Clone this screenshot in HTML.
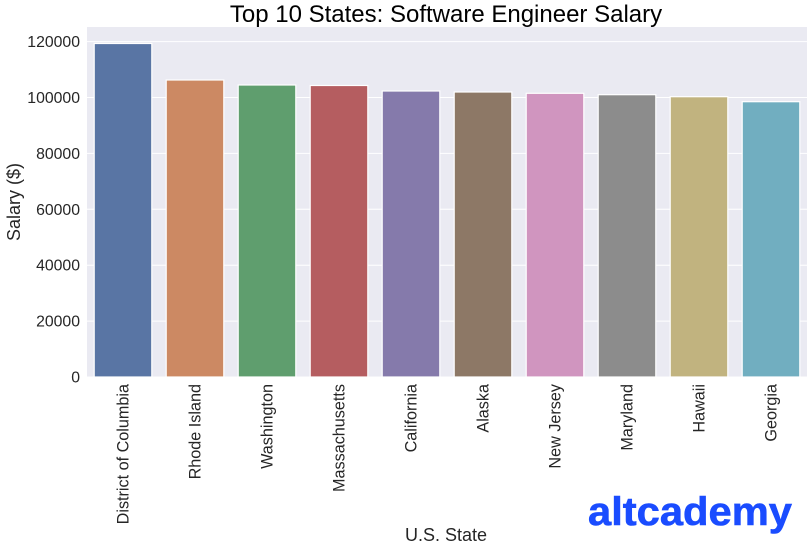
<!DOCTYPE html>
<html><head><meta charset="utf-8"><style>body{margin:0;background:#fff}svg{display:block}</style></head><body>
<svg width="811" height="549" xmlns="http://www.w3.org/2000/svg" font-family="Liberation Sans, Arial, sans-serif">
<rect x="87" y="27" width="720" height="350" fill="#eaeaf2"/>
<g stroke="#fff" stroke-width="1">
<line x1="87" x2="807" y1="377" y2="377"/><line x1="87" x2="807" y1="321.1" y2="321.1"/>
<line x1="87" x2="807" y1="265.2" y2="265.2"/><line x1="87" x2="807" y1="209.3" y2="209.3"/>
<line x1="87" x2="807" y1="153.4" y2="153.4"/><line x1="87" x2="807" y1="97.5" y2="97.5"/>
<line x1="87" x2="807" y1="41.6" y2="41.6"/>
</g>
<g stroke="#fff" stroke-width="1.2">
<rect x="94.2" y="43.5" width="57.6" height="333.5" fill="#5975a4"/>
<rect x="166.2" y="80" width="57.6" height="297" fill="#cc8963"/>
<rect x="238.2" y="85" width="57.6" height="292" fill="#5f9e6e"/>
<rect x="310.2" y="85.5" width="57.6" height="291.5" fill="#b55d60"/>
<rect x="382.2" y="91" width="57.6" height="286" fill="#857aab"/>
<rect x="454.2" y="92" width="57.6" height="285" fill="#8d7866"/>
<rect x="526.2" y="93.3" width="57.6" height="283.7" fill="#d095bf"/>
<rect x="598.2" y="94.7" width="57.6" height="282.3" fill="#8c8c8c"/>
<rect x="670.2" y="96.7" width="57.6" height="280.3" fill="#c1b37f"/>
<rect x="742.2" y="101.7" width="57.6" height="275.3" fill="#71aec0"/>
</g>
<g font-size="15.8" fill="#262626" text-anchor="end">
<text x="80" y="382.5">0</text><text x="80" y="326.6">20000</text><text x="80" y="270.7">40000</text>
<text x="80" y="214.8">60000</text><text x="80" y="158.9">80000</text><text x="80" y="103">100000</text>
<text x="80" y="47.1">120000</text>
</g>
<g font-size="16.2" fill="#262626" text-anchor="end">
<text transform="translate(128.5,384) rotate(-90)">District of Columbia</text>
<text transform="translate(200.5,384) rotate(-90)">Rhode Island</text>
<text transform="translate(272.5,384) rotate(-90)">Washington</text>
<text transform="translate(344.5,384) rotate(-90)">Massachusetts</text>
<text transform="translate(416.5,384) rotate(-90)">California</text>
<text transform="translate(488.5,384) rotate(-90)">Alaska</text>
<text transform="translate(560.5,384) rotate(-90)">New Jersey</text>
<text transform="translate(632.5,384) rotate(-90)">Maryland</text>
<text transform="translate(704.5,384) rotate(-90)">Hawaii</text>
<text transform="translate(776.5,384) rotate(-90)">Georgia</text>
</g>
<text x="446" y="541" font-size="18" fill="#262626" text-anchor="middle">U.S. State</text>
<text transform="translate(20,202) rotate(-90)" font-size="18" fill="#262626" text-anchor="middle">Salary ($)</text>
<text x="446" y="22" font-size="24" fill="#000" text-anchor="middle">Top 10 States: Software Engineer Salary</text>
<text x="588" y="525" font-size="40" font-weight="bold" fill="#1a4cff" stroke="#1a4cff" stroke-width="0.6" textLength="204" lengthAdjust="spacingAndGlyphs">altcademy</text>
</svg>
</body></html>
